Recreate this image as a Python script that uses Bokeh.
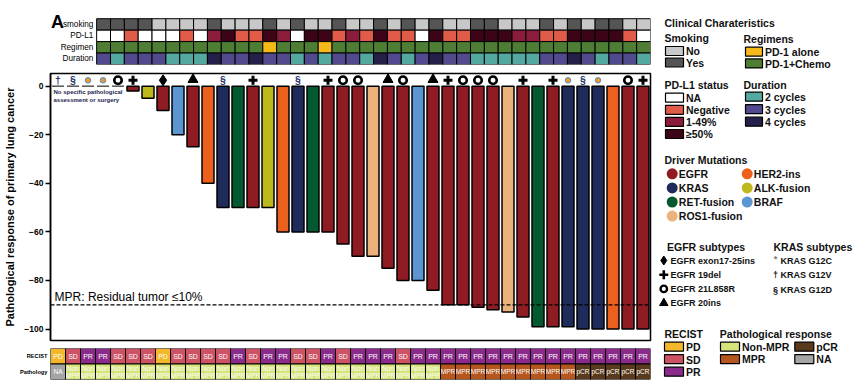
import math
from bokeh.plotting import figure
from bokeh.layouts import row, column
from bokeh.models import Range1d, FixedTicker, Span
from bokeh.embed import file_html
from bokeh.resources import INLINE
from bokeh.core.properties import value

FONT = "Liberation Sans"
N = 40
patients = list(range(1, N + 1))

# ---------------- data ----------------
smoking = ["Yes", "Yes", "Yes", "Yes", "No", "No", "No", "No", "Yes", "No",
           "No", "No", "Yes", "No", "Yes", "No", "No", "Yes", "No", "No",
           "Yes", "No", "Yes", "No", "Yes", "No", "No", "Yes", "Yes", "No",
           "No", "No", "Yes", "No", "Yes", "No", "Yes", "Yes", "No", "No"]
pdl1 = ["NA", "NA", "Negative", "NA", "NA", "NA", "Negative", "NA", "1-49%", "≥50%",
        "Negative", "Negative", "≥50%", "1-49%", "NA", "≥50%", "≥50%", "Negative", "1-49%", "Negative",
        "≥50%", "Negative", "Negative", "NA", "≥50%", "Negative", "Negative", "≥50%", "≥50%", "≥50%",
        "1-49%", "1-49%", "Negative", "Negative", "≥50%", "≥50%", "≥50%", "≥50%", "Negative", "NA"]
regimen = ["PD-1+Chemo"] * 12 + ["PD-1 alone"] + ["PD-1+Chemo"] * 3 + ["PD-1 alone"] + ["PD-1+Chemo"] * 23
duration = ["3 cycles", "2 cycles", "3 cycles", "3 cycles", "3 cycles", "2 cycles", "2 cycles", "2 cycles", "4 cycles", "3 cycles",
            "3 cycles", "4 cycles", "3 cycles", "3 cycles", "2 cycles", "3 cycles", "2 cycles", "3 cycles", "3 cycles", "2 cycles",
            "4 cycles", "3 cycles", "2 cycles", "3 cycles", "4 cycles", "3 cycles", "3 cycles", "2 cycles", "2 cycles", "2 cycles",
            "2 cycles", "2 cycles", "3 cycles", "3 cycles", "4 cycles", "3 cycles", "2 cycles", "3 cycles", "3 cycles", "2 cycles"]
recist = ["PD", "SD", "PR", "PR", "SD", "SD", "SD", "PD", "SD", "SD",
          "SD", "SD", "PR", "SD", "PR", "PR", "SD", "SD", "PR", "SD",
          "PR", "PR", "PR", "SD"] + ["PR"] * 16
pathology = ["NA"] + ["Non-MPR"] * 25 + ["MPR"] * 9 + ["pCR"] * 5

mutation = [None] * 5 + ["EGFR", "ALK-fusion", "EGFR", "BRAF", "EGFR", "HER2-ins", "KRAS", "RET-fusion", "EGFR", "ALK-fusion",
                         "HER2-ins", "KRAS", "RET-fusion", "EGFR", "EGFR", "EGFR", "ROS1-fusion", "EGFR", "EGFR", "BRAF",
                         "EGFR", "EGFR", "EGFR", "EGFR", "EGFR", "ROS1-fusion", "EGFR", "RET-fusion", "EGFR", "KRAS",
                         "KRAS", "KRAS", "HER2-ins", "EGFR", "EGFR"]
response = [None] * 5 + [-2, -5, -10, -20, -25, -40, -50, -50, -50, -50,
                         -60, -60, -60, -60, -65, -70, -70, -75, -80, -80,
                         -84, -90, -90, -91, -92, -93, -95, -99, -99, -99,
                         -100, -100, -100, -100, -100]
subtype = ["G12V", "G12D", "G12C", "G12C", "21L858R", "19del", "", "exon17-25ins", "", "20ins",
           "", "G12D", "", "19del", "", "", "G12D", "", "19del", "21L858R",
           "21L858R", "", "20ins", "21L858R", "", "20ins", "19del", "21L858R", "21L858R", "21L858R",
           "", "19del", "", "19del", "G12C", "G12D", "G12C", "", "21L858R", "19del"]
y_ticks = [0, -20, -40, -60, -80, -100]
mpr_cut = -90

smoking_colors = {"No": "#c8c8c8", "Yes": "#555555"}
pdl1_colors = {"NA": "#ffffff", "Negative": "#e05c48", "1-49%": "#8c1c3c", "≥50%": "#3d0418"}
regimen_colors = {"PD-1 alone": "#f5b91a", "PD-1+Chemo": "#4e7d34"}
duration_colors = {"2 cycles": "#53a8a0", "3 cycles": "#524a8e", "4 cycles": "#24204a"}
mutation_colors = {"EGFR": "#8e1c22", "KRAS": "#1f2b5a", "RET-fusion": "#045a30", "ROS1-fusion": "#ecb27c",
                   "HER2-ins": "#ec601e", "ALK-fusion": "#bdb81c", "BRAF": "#5b96d2"}
recist_colors = {"PD": "#f3b72a", "SD": "#cc5264", "PR": "#8a2a8a"}
path_colors = {"Non-MPR": "#d6e47a", "MPR": "#b5561e", "pCR": "#5a3a1c", "NA": "#a5a5a5"}

FIGW = 658          # left block width (page 0..658)
LEFT = 50           # page x of the first column's left edge
RB = 8              # right border
COLW = (FIGW - LEFT - RB) / N


def base(h, xr, yr, left, top, bottom):
    f = figure(width=FIGW, height=h, x_range=xr, y_range=yr,
               output_backend="svg", toolbar_location=None,
               min_border_left=left, min_border_right=RB, min_border_top=top, min_border_bottom=bottom)
    f.xaxis.visible = False
    f.grid.visible = False
    return f


# ---------------- top heatmap ----------------
ROWH = 11.5
t = base(72, Range1d(0.5 - LEFT / COLW, N + 0.5), Range1d(0, 4 + 18.3 / ROWH), 0, 0, 8)
t.yaxis.visible = False
t.outline_line_color = None
rows = [("smoking", smoking, smoking_colors), ("PD-L1", pdl1, pdl1_colors),
        ("Regimen", regimen, regimen_colors), ("Duration", duration, duration_colors)]
hx, hy, hc = [], [], []
for r, (name, vals, cmap) in enumerate(rows):
    yv = len(rows) - r - 0.5
    for i, v in enumerate(vals):
        hx.append(patients[i]); hy.append(yv); hc.append(cmap[v])
t.rect(x=hx, y=hy, width=1, height=1, fill_color=hc, line_color="black", line_width=1)
t.text(x=[0.5 - 3.5 / COLW] * len(rows), y=[len(rows) - r - 0.5 for r in range(len(rows))],
       text=[r[0] for r in rows], text_align="right", text_baseline="middle",
       text_font=value(FONT), text_font_size="8.2px", text_color="black")
t.text(x=[0.5 - 49.5 / COLW], y=[4 - 3.6 / ROWH], text=["A"], text_baseline="alphabetic",
       text_font=value(FONT), text_font_size="18px", text_font_style="bold", text_color="black")

# ---------------- main waterfall ----------------
p = base(273, Range1d(0.5, N + 0.5), Range1d(-104.7, 5.2), LEFT, 1, 5)
p.outline_line_color = "black"
p.outline_line_width = 1.5
bx = [patients[i] for i in range(N) if response[i] is not None]
btop = [0 for i in range(N) if response[i] is not None]
bbot = [response[i] for i in range(N) if response[i] is not None]
bcol = [mutation_colors[mutation[i]] for i in range(N) if response[i] is not None]
p.vbar(x=bx, top=btop, bottom=bbot, width=0.8, fill_color=bcol, line_color="black", line_width=1.5)

sym_y = 2.4
def sel(kind):
    return [patients[i] for i in range(N) if subtype[i] == kind]

for kind, kw in [("19del", dict(marker="cross", size=9, line_width=3, line_color="black")),
                 ("21L858R", dict(marker="circle", size=7.5, line_width=2.6, line_color="black", fill_color="white")),
                 ("exon17-25ins", dict(marker="diamond", size=11, fill_color="black", line_color="black")),
                 ("20ins", dict(marker="triangle", size=10, fill_color="black", line_color="black")),
                 ("G12C", dict(marker="circle", size=5.5, fill_color="#ee9a2c", line_color="#4a88c8", line_width=1))]:
    xs = sel(kind)
    p.scatter(x=xs, y=[sym_y + (0.3 if kind == "20ins" else 0)] * len(xs), **kw)
for kind, ch in [("G12V", "†"), ("G12D", "§")]:
    xs = sel(kind)
    p.text(x=xs, y=[sym_y] * len(xs), text=[ch] * len(xs), text_align="center", text_baseline="middle",
           text_font=value(FONT), text_font_size="10.5px", text_font_style="bold", text_color="#24306a")
nobar = [patients[i] for i in range(N) if response[i] is None]
p.segment(x0=[x - 0.4 for x in nobar], x1=[x + 0.4 for x in nobar], y0=[0] * len(nobar), y1=[0] * len(nobar),
          line_color="black", line_width=1)
p.text(x=[0.7, 0.7], y=[-2.5, -5.9], text=["No specific pathological", "assessment or surgery"],
       text_baseline="middle", text_font=value(FONT), text_font_size="6px", text_font_style="bold",
       text_color="#1b2550")
p.add_layout(Span(location=mpr_cut, dimension="width", line_color="black", line_width=1.3, line_dash="4 2"))
p.text(x=[0.77], y=[-86.6], text=["MPR: Residual tumor ≤10%"], text_baseline="middle",
       text_font=value(FONT), text_font_size="12px", text_color="black")

p.yaxis.ticker = FixedTicker(ticks=y_ticks)
p.yaxis.minor_tick_line_color = None
p.yaxis.major_tick_in = 0
p.yaxis.major_tick_out = 5
p.yaxis.major_tick_line_width = 1.3
p.yaxis.axis_line_width = 1.5
p.yaxis.major_label_standoff = 2
p.yaxis.major_label_text_font = FONT
p.yaxis.major_label_text_font_size = "8.5px"
p.yaxis.major_label_text_font_style = "bold"
p.yaxis.major_label_text_color = "black"
p.yaxis.axis_label = "Pathological response of primary lung cancer"
p.yaxis.axis_label_text_font = FONT
p.yaxis.axis_label_text_font_size = "11px"
p.yaxis.axis_label_text_font_style = "bold"
p.yaxis.axis_label_text_color = "black"
p.yaxis.axis_label_standoff = 5

# ---------------- bottom table ----------------
b = base(41, Range1d(0.5, N + 0.5), Range1d(0, 2), LEFT, 3, 7)
b.outline_line_color = None
b.rect(x=patients, y=[1.5] * N, width=1, height=1, fill_color=[recist_colors[v] for v in recist],
       line_color="black", line_width=1)
b.rect(x=patients, y=[0.5] * N, width=1, height=1, fill_color=[path_colors[v] for v in pathology],
       line_color="black", line_width=1)
b.text(x=patients, y=[1.5] * N, text=recist, text_align="center", text_baseline="middle",
       text_font=value(FONT), text_font_size="7px", text_color="white")
single = [i for i in range(N) if pathology[i] != "Non-MPR"]
b.text(x=[patients[i] for i in single], y=[0.5] * len(single), text=[pathology[i] for i in single],
       text_align="center", text_baseline="middle", text_font=value(FONT), text_font_size="6.5px", text_color="white")
double = [i for i in range(N) if pathology[i] == "Non-MPR"]
b.text(x=[patients[i] for i in double], y=[0.74] * len(double), text=["Non"] * len(double),
       text_align="center", text_baseline="middle", text_font=value(FONT), text_font_size="6.5px", text_color="white")
b.text(x=[patients[i] for i in double], y=[0.27] * len(double), text=["MPR"] * len(double),
       text_align="center", text_baseline="middle", text_font=value(FONT), text_font_size="6.5px", text_color="white")
b.yaxis.ticker = FixedTicker(ticks=[1.5, 0.5])
b.yaxis.major_label_overrides = {1.5: "RECIST", 0.5: "Pathology"}
b.yaxis.axis_line_color = None
b.yaxis.major_tick_line_color = None
b.yaxis.minor_tick_line_color = None
b.yaxis.major_tick_in = 0
b.yaxis.major_tick_out = 0
b.yaxis.major_label_standoff = 3
b.yaxis.major_label_text_font = FONT
b.yaxis.major_label_text_font_size = "5.7px"
b.yaxis.major_label_text_font_style = "bold"
b.yaxis.major_label_text_color = "black"

# ---------------- legend panel ----------------
lg = figure(width=199, height=386, x_range=Range1d(658, 857), y_range=Range1d(386, 0),
            output_backend="svg", toolbar_location=None, min_border=0)
lg.axis.visible = False
lg.grid.visible = False
lg.outline_line_color = None

headers = [("Clinical Charateristics", 664, 22.5), ("Smoking", 664, 37.5), ("Regimens", 743, 38),
           ("PD-L1 status", 664, 84), ("Duration", 743, 84), ("Driver Mutations", 664, 159),
           ("EGFR subtypes", 666.5, 246.7), ("KRAS subtypes", 773, 246.7),
           ("RECIST", 664, 333.3), ("Pathological response", 719.3, 333.3)]
lg.text(x=[h[1] for h in headers], y=[h[2] for h in headers], text=[h[0] for h in headers],
        text_baseline="middle", text_font=value(FONT), text_font_size="10.5px", text_font_style="bold",
        text_color="#111111")

swatch_groups = [
    (smoking_colors, ["No", "Yes"], 665, 683, 46.0, 11.5),
    (regimen_colors, ["PD-1 alone", "PD-1+Chemo"], 745, 762, 46.7, 11.7),
    (pdl1_colors, ["NA", "Negative", "1-49%", "≥50%"], 665, 683, 92.7, 12.1),
    (duration_colors, ["2 cycles", "3 cycles", "4 cycles"], 745, 762, 91.7, 12.5),
    (recist_colors, ["PD", "SD", "PR"], 664, 683, 341.7, 12.5),
    (path_colors, ["Non-MPR", "MPR"], 720, 739, 341.7, 12.4),
    (path_colors, ["pCR", "NA"], 794.3, 813.3, 341.7, 12.4),
]
ql, qr, qt, qb, qc, tx, ty, tt = [], [], [], [], [], [], [], []
for cmap, keys, x0, x1, y0, dy in swatch_groups:
    for k, key in enumerate(keys):
        top = y0 + k * dy
        ql.append(x0); qr.append(x1); qt.append(top); qb.append(top + 9); qc.append(cmap[key])
        tx.append(x1 + 2.5); ty.append(top + 4.8); tt.append(key)
lg.quad(left=ql, right=qr, top=qt, bottom=qb, fill_color=qc, line_color="black", line_width=1.2)
lg.text(x=tx, y=ty, text=tt, text_baseline="middle", text_font=value(FONT), text_font_size="10.5px",
        text_font_style="bold", text_color="#111111")

mut_cols = [(["EGFR", "KRAS", "RET-fusion", "ROS1-fusion"], 671.7), (["HER2-ins", "ALK-fusion", "BRAF"], 746.7)]
cx, cy, cc, mtx, mty, mtt = [], [], [], [], [], []
for keys, x0 in mut_cols:
    for k, key in enumerate(keys):
        yy = 173.3 + k * 14.1
        cx.append(x0); cy.append(yy); cc.append(mutation_colors[key])
        mtx.append(x0 + 6.6); mty.append(yy); mtt.append(key)
lg.scatter(x=cx, y=cy, marker="circle", size=11, fill_color=cc, line_color=None)
lg.text(x=mtx, y=mty, text=mtt, text_baseline="middle", text_font=value(FONT), text_font_size="10.5px",
        text_font_style="bold", text_color="#111111")

egfr_items = ["exon17-25ins", "19del", "21L858R", "20ins"]
ey = [260 + k * 14.2 for k in range(len(egfr_items))]
lg.scatter(x=[663.3], y=[ey[0]], marker="diamond", size=9, fill_color="black", line_color="black")
lg.scatter(x=[663.3], y=[ey[1]], marker="cross", size=9, line_width=2.6, line_color="black")
lg.scatter(x=[663.3], y=[ey[2]], marker="circle", size=6.5, line_width=2.4, line_color="black", fill_color="white")
lg.scatter(x=[663.3], y=[ey[3]], marker="triangle", size=8.5, fill_color="black", line_color="black")
lg.text(x=[670] * len(egfr_items), y=ey, text=["EGFR " + s for s in egfr_items], text_baseline="middle",
        text_font=value(FONT), text_font_size="9px", text_font_style="bold", text_color="#111111")

kras_items = ["G12C", "G12V", "G12D"]
kras_marks = ["*", "†", "§"]
ky = [260 + k * 14.5 for k in range(len(kras_items))]
lg.text(x=[775, 775, 775], y=[ky[0] - 1.5, ky[1], ky[2]], text=kras_marks, text_align="center",
        text_baseline="middle", text_font=value(FONT), text_font_size="9px", text_font_style="bold",
        text_color=["#777777", "#111111", "#111111"])
lg.text(x=[780] * len(kras_items), y=ky, text=["KRAS " + s for s in kras_items], text_baseline="middle",
        text_font=value(FONT), text_font_size="9px", text_font_style="bold", text_color="#111111")

layout = row(column(t, p, b, spacing=0), lg, spacing=0)
open("out.html", "w").write(file_html(layout, INLINE))
